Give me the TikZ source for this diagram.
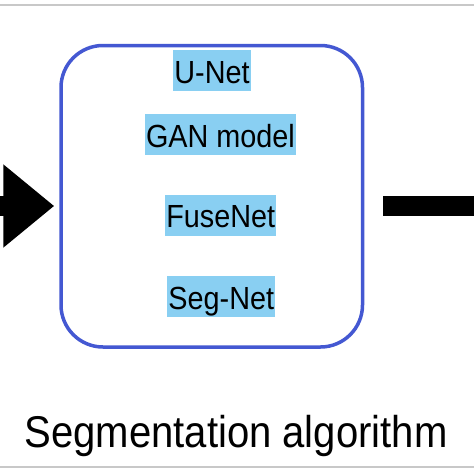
\documentclass[tikz,border=0pt]{standalone}
\usepackage{fontspec}
\setmainfont{Liberation Sans}[FakeStretch=0.9]
\usetikzlibrary{arrows.meta}
\definecolor{boxblue}{RGB}{68,88,210}
\definecolor{hlblue}{RGB}{137,207,242}
\definecolor{rulegray}{RGB}{200,200,200}
\tikzset{
  algobox/.style={draw=boxblue, line width=3.5pt, rounded corners=42pt, minimum width=301.5pt, minimum height=301.5pt, inner sep=0pt},
  modellabel/.style={fill=hlblue, inner xsep=1pt, inner ysep=0pt, text height=33pt, text depth=8pt, anchor=base, font=\fontsize{32}{38}\selectfont},
  inarrow/.style={line width=20pt, -{Triangle[length=51pt, width=80pt]}, shorten >=5pt},
  outbar/.style={line width=20pt, shorten <=19pt},
  sepline/.style={rulegray, line width=2pt}
}
\begin{document}
\begin{tikzpicture}[x=1pt, y=-1pt]
  \useasboundingbox (0,0) rectangle (474,474);
  \fill[white] (0,0) rectangle (474,474);

  \draw[sepline] (0,5) -- (474,5);
  \draw[sepline] (0,467) -- (474,467);

  \node[algobox] (algo) at (211.75,196.25) {};

  \foreach \i/\x/\y/\t in {1/212/83.3/U-Net,2/220.5/147.3/GAN model,
                           3/220.7/227.7/FuseNet,4/221.3/309.3/Seg-Net} {
    \node[modellabel] (m\i) at (\x,\y) {\t};
  }

  \coordinate (in) at (-10,206);
  \coordinate (out) at (480,206);
  \draw[inarrow] (in) -- (in -| algo.west);
  \draw[outbar] (out -| algo.east) -- (out);

  \node[anchor=base, font=\fontsize{44.5}{50}\selectfont] (title) at (236,447) {Segmentation algorithm};
\end{tikzpicture}
\end{document}
